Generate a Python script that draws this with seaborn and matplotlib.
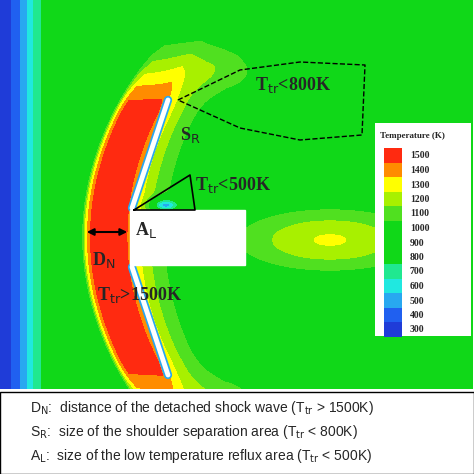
import numpy as np
import matplotlib.pyplot as plt
import seaborn as sns
from matplotlib.colors import ListedColormap, BoundaryNorm

sns.set_style("white")
plt.rcParams['font.family'] = ['Liberation Serif', 'DejaVu Serif']

levels = [300, 400, 500, 600, 700, 800, 900, 1000, 1100, 1200, 1300, 1400, 1500, 1600]
colors = ['#1f3cd8', '#2060f0', '#28a8f0', '#20e8e0', '#20e890', '#10d818', '#10d818',
          '#10d818', '#50e020', '#a8f000', '#ffff00', '#ff8c00', '#ff2a10']
tick_labels = ['1500', '1400', '1300', '1200', '1100', '1000', '900', '800', '700', '600', '500', '400', '300']

# temperature across the bow shock vs distance behind the shock front (px)
s_knots = [-10, 0, 4, 10, 42, 52, 62, 78, 100, 140]
t_knots = [950, 1050, 1350, 1550, 1550, 1380, 1250, 1120, 1020, 980]
# freestream temperature ahead of shock vs x (px)
x_knots = [0, 15, 25, 35, 48, 474]
xt_knots = [350, 420, 560, 720, 880, 950]

W, H = 474, 390
xx, yy = np.meshgrid(np.arange(W), np.arange(H))
x_shock = 82 + 0.002 * (yy - 237) ** 2
s = xx - x_shock
T = np.interp(s, s_knots, t_knots)
# hot layer fades past the strut tips
fade = np.exp(-(np.clip(np.abs(yy - 237) - 120, 0, None) / 55) ** 2)
T = 980 + (T - 980) * fade
T = np.where(s < -10, np.interp(xx, x_knots, xt_knots), T)
# wake and separation features
T += 330 * np.exp(-((xx - 330) / 90) ** 2 - ((yy - 240) / 30) ** 2) * (xx > 245)
T += 150 * np.exp(-((xx - 220) / 45) ** 2 - ((yy - 70) / 25) ** 2)
T += 150 * np.exp(-((xx - 220) / 45) ** 2 - ((yy - 400) / 25) ** 2)
T -= 550 * np.exp(-((xx - 165) / 14) ** 2 - ((yy - 205) / 7) ** 2)

cmap = ListedColormap(colors)
norm = BoundaryNorm(levels, cmap.N)

fig = plt.figure(figsize=(4.74, 4.74), dpi=100)
ax = fig.add_axes([0, 0, 1, 1])
ax.contourf(xx, yy, T, levels=levels, cmap=cmap, norm=norm, extend='both')
ax.set_xlim(0, W)
ax.set_ylim(474, 0)
ax.axis('off')

# body (white) with thin struts
ax.plot([168, 132], [100, 208], color='#28a8f0', lw=6, solid_capstyle='round', zorder=3)
ax.plot([168, 132], [375, 267], color='#28a8f0', lw=6, solid_capstyle='round', zorder=3)
ax.plot([168, 132], [100, 208], color='white', lw=3.5, solid_capstyle='round', zorder=3)
ax.plot([168, 132], [375, 267], color='white', lw=3.5, solid_capstyle='round', zorder=3)
ax.fill([130, 245, 245, 130], [210, 210, 265, 265], color='white', zorder=3)
ax.plot([134, 195, 190, 134], [210, 210, 175, 210], color='black', lw=1.2, zorder=4)
# separation area
ax.plot([178, 240, 300, 365, 362, 300, 240, 178], [100, 70, 62, 65, 135, 140, 128, 100],
        color='black', ls='--', lw=1, zorder=4)
ax.annotate('', xy=(84, 232), xytext=(130, 232),
            arrowprops=dict(arrowstyle='<|-|>', color='black', lw=1.5), zorder=5)

lab = dict(fontsize=13, fontweight='bold', zorder=6)
ax.text(255, 90, r'T$_{\rm tr}$<800K', **lab)
ax.text(180, 140, r'S$_{\rm R}$', **lab)
ax.text(195, 190, r'T$_{\rm tr}$<500K', **lab)
ax.text(135, 235, r'A$_{\rm L}$', **lab)
ax.text(92, 265, r'D$_{\rm N}$', **lab)
ax.text(97, 300, r'T$_{\rm tr}$>1500K', **lab)

# legend box
ax.add_patch(plt.Rectangle((375, 123), 96, 213, facecolor='white', edgecolor='none', zorder=6))
ax.text(380, 138, 'Temperature (K)', fontsize=6.5, fontweight='bold', zorder=7)
y0, bh = 148, 14.5
for i, c in enumerate(colors[::-1]):
    ax.add_patch(plt.Rectangle((384, y0 + i * bh), 18, bh, facecolor=c, edgecolor='none', zorder=7))
for i, t in enumerate(tick_labels):
    ax.text(410, y0 + i * bh + 8, t, fontsize=7, fontweight='bold', va='center', zorder=7)

# caption box
ax.add_patch(plt.Rectangle((0, 392), 474, 82, facecolor='white', edgecolor='black', lw=1, zorder=6))
cap = dict(fontsize=10, zorder=7, va='center', family=['Liberation Sans', 'DejaVu Sans'])
ax.text(30, 408, r'D$_{\rm N}$:  distance of the detached shock wave (T$_{\rm tr}$ > 1500K)', **cap)
ax.text(30, 432, r'S$_{\rm R}$:  size of the shoulder separation area (T$_{\rm tr}$ < 800K)', **cap)
ax.text(30, 456, r'A$_{\rm L}$:  size of the low temperature reflux area (T$_{\rm tr}$ < 500K)', **cap)

fig.savefig('out.png', dpi=100)
